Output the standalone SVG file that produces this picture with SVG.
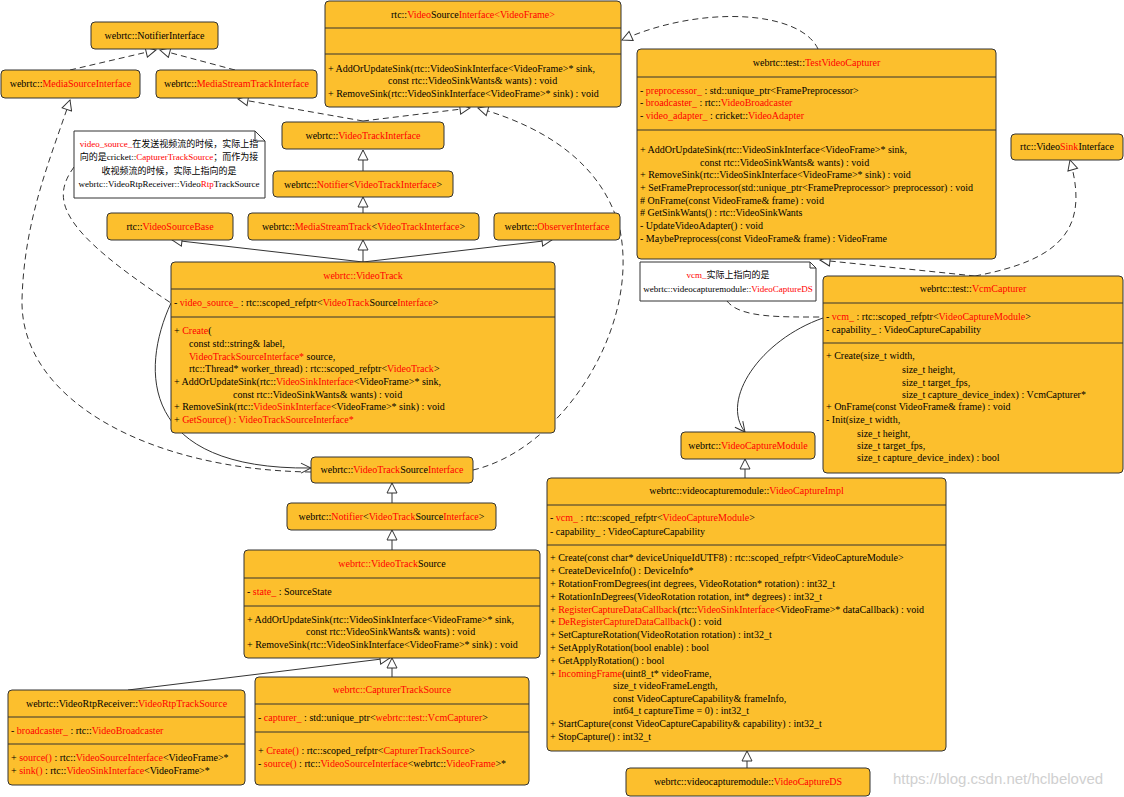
<svg xmlns="http://www.w3.org/2000/svg" width="1124" height="797" viewBox="0 0 1124 797">
<style>
.b{fill:#FCBF2D;stroke:#333;stroke-width:1}
.n{fill:#fff;stroke:#333;stroke-width:1}
.d{stroke:#333;stroke-width:1}
text{font-family:"Liberation Serif","Noto Sans CJK SC",serif;font-size:10px;fill:#000}
.c{text-anchor:middle}
.r{fill:#f00}
.s{font-size:9px}
.e{fill:none;stroke:#333;stroke-width:1}
.dash{stroke-dasharray:6,4}
.inh{marker-end:url(#tri)}
.arr{marker-end:url(#open)}
</style>
<defs>
<marker id="tri" markerWidth="12" markerHeight="12" refX="11" refY="6" orient="auto" markerUnits="userSpaceOnUse"><path d="M1,1 L11,6 L1,11 z" fill="#fff" stroke="#333"/></marker>
<marker id="open" markerWidth="12" markerHeight="12" refX="11" refY="6" orient="auto" markerUnits="userSpaceOnUse"><path d="M1,1 L11,6 L1,11" fill="none" stroke="#333"/></marker>
</defs>
<rect width="1124" height="797" fill="#fff"/>
<g id="connectors">
<path class="e dash inh" d="M70,70 L156,50"/>
<path class="e dash inh" d="M235,70 L160,50"/>
<path class="e dash inh" d="M363,121 L238,99"/>
<path class="e dash inh" d="M363,121 L470,108"/>
<path class="e inh" d="M363,171 L363,150"/>
<path class="e inh" d="M363,213 L363,197"/>
<path class="e inh" d="M363,262 L172,240"/>
<path class="e inh" d="M363,262 L363,240"/>
<path class="e inh" d="M363,262 L552,240"/>
<path class="e dash inh" d="M473,470 C560,450 640,330 620,230 C600,150 520,120 478,108"/>
<path class="e dash inh" d="M311,472 C150,470 20,400 22,300 C24,220 50,160 70,100"/>
<path class="e dash" d="M74,167 C50,200 60,230 171,303"/>
<path class="e arr" d="M171,303 C140,370 140,470 311,468"/>
<path class="e dash inh" d="M818,49 C800,10 700,5 622,40"/>
<path class="e dash inh" d="M975,276 L820,260"/>
<path class="e dash inh" d="M975,276 C1060,260 1090,230 1070,160"/>
<path class="e dash" d="M727,301 C740,318 780,317 823,317"/>
<path class="e arr" d="M823,318 C760,340 720,400 745,432"/>
<path class="e inh" d="M745,478 L745,459"/>
<path class="e inh" d="M747,768 L747,751"/>
<path class="e inh" d="M392,503 L392,483"/>
<path class="e inh" d="M392,550 L392,530"/>
<path class="e inh" d="M392,677 L392,658"/>
<path class="e inh" d="M128,690 L390,658"/>
</g>
<g id="NotifierInterface"><rect class="b" x="91" y="22" width="127" height="27" rx="4"/><text class="c" x="154.5" y="39">webrtc::NotifierInterface</text></g>
<g id="MediaSourceInterface"><rect class="b" x="1" y="70" width="139" height="28" rx="4"/><text class="c" x="70.5" y="87">webrtc::<tspan class="r">MediaSourceInterface</tspan></text></g>
<g id="MediaStreamTrackInterface"><rect class="b" x="156" y="70" width="161" height="28" rx="4"/><text class="c" x="236.5" y="87">webrtc::<tspan class="r">MediaStreamTrackInterface</tspan></text></g>
<g id="VideoSourceInterface"><rect class="b" x="325" y="1" width="296" height="106" rx="4"/>
<line class="d" x1="325" y1="28" x2="621" y2="28"/><line class="d" x1="325" y1="54" x2="621" y2="54"/>
<text class="c" x="473" y="18">rtc::<tspan class="r">Video</tspan>Source<tspan class="r">Interface&lt;VideoFrame&gt;</tspan></text>
<text x="328" y="72">+ AddOrUpdateSink(rtc::VideoSinkInterface&lt;VideoFrame&gt;* sink,</text>
<text x="388" y="84">const rtc::VideoSinkWants&amp; wants) : void</text>
<text x="328" y="97">+ RemoveSink(rtc::VideoSinkInterface&lt;VideoFrame&gt;* sink) : void</text></g>
<g id="VideoTrackInterface"><rect class="b" x="282" y="122" width="162" height="27" rx="4"/><text class="c" x="363" y="139">webrtc::<tspan class="r">VideoTrackInterface</tspan></text></g>
<g id="NotifierVTI"><rect class="b" x="273" y="171" width="180" height="26" rx="4"/><text class="c" x="363" y="188">webrtc::<tspan class="r">Notifier</tspan>&lt;<tspan class="r">VideoTrackInterface</tspan>&gt;</text></g>
<g id="VideoSourceBase"><rect class="b" x="107" y="213" width="126" height="27" rx="4"/><text class="c" x="170" y="230">rtc::<tspan class="r">VideoSourceBase</tspan></text></g>
<g id="MediaStreamTrack"><rect class="b" x="248" y="213" width="231" height="27" rx="4"/><text class="c" x="363.5" y="230">webrtc::<tspan class="r">MediaStreamTrack</tspan>&lt;<tspan class="r">VideoTrackInterface</tspan>&gt;</text></g>
<g id="ObserverInterface"><rect class="b" x="494" y="213" width="126" height="27" rx="4"/><text class="c" x="557" y="230">webrtc::<tspan class="r">ObserverInterface</tspan></text></g>
<g id="note1"><path class="n" d="M74,131 H255 L265,141 V198 H74 Z"/><path class="e" d="M255,131 V141 H265"/>
<text class="c s" x="169" y="147"><tspan class="r">video_source_</tspan>在发送视频流的时候，实际上指</text>
<text class="c s" x="169" y="160">向的是cricket::<tspan class="r">CapturerTrackSource</tspan>；而作为接</text>
<text class="c s" x="169" y="174">收视频流的时候，实际上指向的是</text>
<text class="c s" x="169" y="187">webrtc::VideoRtpReceiver::Video<tspan class="r">Rtp</tspan>TrackSource</text></g>
<g id="VideoTrack"><rect class="b" x="171" y="262" width="384" height="171" rx="4"/>
<line class="d" x1="171" y1="289" x2="555" y2="289"/><line class="d" x1="171" y1="317" x2="555" y2="317"/>
<text class="c r" x="363" y="279">webrtc::VideoTrack</text>
<text x="174" y="306">- <tspan class="r">video_source_</tspan> : rtc::scoped_refptr&lt;<tspan class="r">VideoTrack</tspan>Source<tspan class="r">Interface</tspan>&gt;</text>
<text x="174" y="334">+ <tspan class="r">Create</tspan>(</text>
<text x="189" y="347">const std::string&amp; label,</text>
<text x="189" y="360"><tspan class="r">VideoTrackSourceInterface*</tspan> source,</text>
<text x="189" y="372">rtc::Thread* worker_thread) : rtc::scoped_refptr&lt;<tspan class="r">VideoTrack</tspan>&gt;</text>
<text x="174" y="385">+ AddOrUpdateSink(rtc::<tspan class="r">VideoSinkInterface</tspan>&lt;VideoFrame&gt;* sink,</text>
<text x="233" y="398">const rtc::VideoSinkWants&amp; wants) : void</text>
<text x="174" y="410">+ RemoveSink(rtc::<tspan class="r">VideoSinkInterface</tspan>&lt;VideoFrame&gt;* sink) : void</text>
<text x="174" y="423">+ <tspan class="r">GetSource() : VideoTrackSourceInterface*</tspan></text></g>
<g id="VideoTrackSourceInterface"><rect class="b" x="311" y="457" width="162" height="26" rx="4"/><text class="c" x="392" y="473">webrtc::<tspan class="r">VideoTrack</tspan>Source<tspan class="r">Interface</tspan></text></g>
<g id="NotifierVTSI"><rect class="b" x="287" y="503" width="209" height="27" rx="4"/><text class="c" x="391.5" y="520">webrtc::<tspan class="r">Notifier</tspan>&lt;<tspan class="r">VideoTrack</tspan>Source<tspan class="r">Interface</tspan>&gt;</text></g>
<g id="VideoTrackSource"><rect class="b" x="244" y="550" width="296" height="108" rx="4"/>
<line class="d" x1="244" y1="578" x2="540" y2="578"/><line class="d" x1="244" y1="606" x2="540" y2="606"/>
<text class="c" x="392" y="567"><tspan class="r">webrtc::VideoTrack</tspan>Source</text>
<text x="247" y="595">- <tspan class="r">state_</tspan> : SourceState</text>
<text x="247" y="623">+ AddOrUpdateSink(rtc::VideoSinkInterface&lt;VideoFrame&gt;* sink,</text>
<text x="306" y="635">const rtc::VideoSinkWants&amp; wants) : void</text>
<text x="247" y="648">+ RemoveSink(rtc::VideoSinkInterface&lt;VideoFrame&gt;* sink) : void</text></g>
<g id="VideoRtpTrackSource"><rect class="b" x="8" y="690" width="237" height="95" rx="4"/>
<line class="d" x1="8" y1="717" x2="245" y2="717"/><line class="d" x1="8" y1="744" x2="245" y2="744"/>
<text class="c" x="126.5" y="707">webrtc::VideoRtpReceiver::<tspan class="r">Video</tspan><tspan class="r">Rtp</tspan><tspan class="r">TrackSource</tspan></text>
<text x="11" y="734">- <tspan class="r">broadcaster_</tspan> : rtc::<tspan class="r">VideoBroadcaster</tspan></text>
<text x="11" y="761">+ <tspan class="r">source()</tspan> : rtc::<tspan class="r">VideoSourceInterface</tspan>&lt;VideoFrame&gt;*</text>
<text x="11" y="774">+ <tspan class="r">sink()</tspan> : rtc::<tspan class="r">VideoSinkInterface</tspan>&lt;VideoFrame&gt;*</text></g>
<g id="CapturerTrackSource"><rect class="b" x="255" y="677" width="274" height="108" rx="4"/>
<line class="d" x1="255" y1="704" x2="529" y2="704"/><line class="d" x1="255" y1="732" x2="529" y2="732"/>
<text class="c r" x="392" y="693">webrtc::CapturerTrackSource</text>
<text x="258" y="721">- <tspan class="r">capturer_</tspan> : std::unique_ptr&lt;<tspan class="r">webrtc::test::VcmCapturer</tspan>&gt;</text>
<text x="258" y="754">+ <tspan class="r">Create()</tspan> : rtc::scoped_refptr&lt;<tspan class="r">CapturerTrackSource</tspan>&gt;</text>
<text x="258" y="767">- <tspan class="r">source()</tspan> : rtc::<tspan class="r">VideoSourceInterface</tspan>&lt;webrtc::<tspan class="r">VideoFrame</tspan>&gt;*</text></g>
<g id="TestVideoCapturer"><rect class="b" x="637" y="49" width="359" height="210" rx="4"/>
<line class="d" x1="637" y1="77" x2="996" y2="77"/><line class="d" x1="637" y1="130" x2="996" y2="130"/>
<text class="c" x="816.5" y="66">webrtc::test::<tspan class="r">TestVideoCapturer</tspan></text>
<text x="640" y="94">- <tspan class="r">preprocessor_</tspan> : std::unique_ptr&lt;FramePreprocessor&gt;</text>
<text x="640" y="106">- <tspan class="r">broadcaster_</tspan> : rtc::<tspan class="r">VideoBroadcaster</tspan></text>
<text x="640" y="119">- <tspan class="r">video_adapter_</tspan> : cricket::<tspan class="r">VideoAdapter</tspan></text>
<text x="640" y="153">+ AddOrUpdateSink(rtc::VideoSinkInterface&lt;VideoFrame&gt;* sink,</text>
<text x="700" y="166">const rtc::VideoSinkWants&amp; wants) : void</text>
<text x="640" y="178">+ RemoveSink(rtc::VideoSinkInterface&lt;VideoFrame&gt;* sink) : void</text>
<text x="640" y="191">+ SetFramePreprocessor(std::unique_ptr&lt;FramePreprocessor&gt; preprocessor) : void</text>
<text x="640" y="204"># OnFrame(const VideoFrame&amp; frame) : void</text>
<text x="640" y="216"># GetSinkWants() :  rtc::VideoSinkWants</text>
<text x="640" y="229">- UpdateVideoAdapter() : void</text>
<text x="640" y="242">- MaybePreprocess(const VideoFrame&amp; frame) : VideoFrame</text></g>
<g id="VideoSinkInterface"><rect class="b" x="1011" y="134" width="112" height="26" rx="4"/><text class="c" x="1067" y="150">rtc::Video<tspan class="r">Sink</tspan>Interface</text></g>
<g id="note2"><path class="n" d="M640,262 H810 L816,268 V301 H640 Z"/><path class="e" d="M810,262 V268 H816"/>
<text class="c s" x="728" y="278"><tspan class="r">vcm_</tspan>实际上指向的是</text>
<text class="c s" x="728" y="292">webrtc::videocapturemodule::<tspan class="r">VideoCaptureDS</tspan></text></g>
<g id="VcmCapturer"><rect class="b" x="823" y="276" width="300" height="197" rx="4"/>
<line class="d" x1="823" y1="303" x2="1123" y2="303"/><line class="d" x1="823" y1="343" x2="1123" y2="343"/>
<text class="c" x="973" y="292">webrtc::test::<tspan class="r">VcmCapturer</tspan></text>
<text x="826" y="320">- <tspan class="r">vcm_</tspan> : rtc::scoped_refptr&lt;<tspan class="r">VideoCaptureModule</tspan>&gt;</text>
<text x="826" y="333">- capability_ : VideoCaptureCapability</text>
<text x="826" y="359">+ Create(size_t width,</text>
<text x="902" y="373">size_t height,</text>
<text x="902" y="386">size_t target_fps,</text>
<text x="902" y="398">size_t capture_device_index) : VcmCapturer*</text>
<text x="826" y="410">+ OnFrame(const VideoFrame&amp; frame) : void</text>
<text x="826" y="423">- Init(size_t width,</text>
<text x="857" y="437">size_t height,</text>
<text x="857" y="449">size_t target_fps,</text>
<text x="857" y="461">size_t capture_device_index) : bool</text></g>
<g id="VideoCaptureModule"><rect class="b" x="681" y="432" width="134" height="27" rx="4"/><text class="c" x="748" y="449">webrtc::<tspan class="r">VideoCaptureModule</tspan></text></g>
<g id="VideoCaptureImpl"><rect class="b" x="547" y="478" width="399" height="273" rx="4"/>
<line class="d" x1="547" y1="505" x2="946" y2="505"/><line class="d" x1="547" y1="545" x2="946" y2="545"/>
<text class="c" x="746.5" y="494">webrtc::videocapturemodule::<tspan class="r">VideoCaptureImpl</tspan></text>
<text x="550" y="521">- <tspan class="r">vcm_</tspan> : rtc::scoped_refptr&lt;<tspan class="r">VideoCaptureModule</tspan>&gt;</text>
<text x="550" y="535">- capability_ : VideoCaptureCapability</text>
<text x="550" y="561">+ Create(const char* deviceUniqueIdUTF8) : rtc::scoped_refptr&lt;VideoCaptureModule&gt;</text>
<text x="550" y="574">+ CreateDeviceInfo() : DeviceInfo*</text>
<text x="550" y="587">+ RotationFromDegrees(int degrees, VideoRotation* rotation) : int32_t</text>
<text x="550" y="600">+ RotationInDegrees(VideoRotation rotation, int* degrees) : int32_t</text>
<text x="550" y="613">+ <tspan class="r">RegisterCaptureDataCallback</tspan>(rtc::<tspan class="r">VideoSinkInterface</tspan>&lt;VideoFrame&gt;* dataCallback) : void</text>
<text x="550" y="625">+ <tspan class="r">DeRegisterCaptureDataCallback</tspan>() : void</text>
<text x="550" y="638">+ SetCaptureRotation(VideoRotation rotation) : int32_t</text>
<text x="550" y="651">+ SetApplyRotation(bool enable) : bool</text>
<text x="550" y="664">+ GetApplyRotation() : bool</text>
<text x="550" y="677">+ <tspan class="r">IncomingFrame</tspan>(uint8_t* videoFrame,</text>
<text x="613" y="689">size_t videoFrameLength,</text>
<text x="613" y="702">const VideoCaptureCapability&amp; frameInfo,</text>
<text x="613" y="714">int64_t captureTime = 0) : int32_t</text>
<text x="550" y="727">+ StartCapture(const VideoCaptureCapability&amp; capability) : int32_t</text>
<text x="550" y="740">+ StopCapture() : int32_t</text></g>
<g id="VideoCaptureDS"><rect class="b" x="626" y="768" width="244" height="28" rx="4"/><text class="c" x="748" y="785">webrtc::videocapturemodule::<tspan class="r">VideoCaptureDS</tspan></text></g>
<text x="893" y="784" style="font-family:'Liberation Sans',sans-serif;font-size:15px;fill:#d0d0d0">https://blog.csdn.net/hclbeloved</text>
</svg>
